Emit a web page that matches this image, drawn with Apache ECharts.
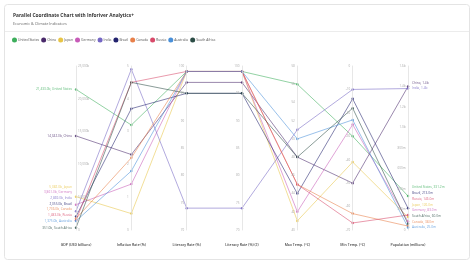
<!DOCTYPE html>
<html>
<head>
<meta charset="utf-8">
<script src="https://cdn.jsdelivr.net/npm/echarts@6/dist/echarts.min.js"></script>
<style>
  html, body { margin: 0; padding: 0; background: #fff; }
  #main { width: 474px; height: 265px; }
</style>
</head>
<body>
<div id="main"></div>
<script>
  // countries and colours
  var countries = ['United States', 'China', 'Japan', 'Germany', 'India', 'Brazil', 'Canada', 'Russia', 'Australia', 'South Africa'];
  var colors = ['#3dae5c', '#4a2a6b', '#e8c547', '#c75bb8', '#7567c4', '#23236e', '#e8804a', '#d84a6a', '#4a90d9', '#2c4d46'];

  // values per axis
  var gdp = [21433, 14342, 5082, 3861, 2869, 2055, 1736, 1483, 1375, 351];
  var inflation = [3.2, 2.3, 0.5, 1.4, 4.9, 3.7, 2.2, 4.5, 1.8, 4.5];
  var literacy = [99, 97, 99, 99, 74, 95, 99, 99, 99, 95];
  var literacy2 = [99, 97, 99, 99, 74, 95, 99, 99, 99, 95];
  var maxTemp = [56, 48, 41, 42, 51, 44, 45, 45, 50, 48];
  var minTemp = [-30, -50, -41, -25, -10, -14, -63, -67, -23, -18];
  var population = [331.2, 1400, 126, 83, 1380, 213, 38, 146, 25, 60];

  // axes
  var axisNames = ['GDP (USD billions)', 'Inflation Rate (%)', 'Literacy Rate (%)', 'Literacy Rate (%) (2)', 'Max Temp. (°C)', 'Min Temp. (°C)', 'Population (millions)'];
  var axisMin = [0, 0, 70, 70, 40, -70, 0];
  var axisMax = [25000, 5, 100, 100, 58, 0, 1600];
  var axisInterval = [5000, 1, 5, 5, 2, 10, 200];

  var columns = [gdp, inflation, literacy, literacy2, maxTemp, minTemp, population];

  function fmtPop(v) {
    if (v >= 1000) return (v / 1000).toFixed(1) + 'b';
    return v.toFixed(1) + 'm';
  }
  function tickFmt(i) {
    return function (v) {
      if (i === 0) return v === 0 ? '0' : v.toLocaleString('en-US') + 'b';
      if (i === 6) return v === 0 ? '0' : (v >= 1000 ? (v / 1000).toFixed(1) + 'b' : v + 'm');
      return String(v);
    };
  }

  var box = { left: 76, right: 66, top: 66, bottom: 35 };
  var font = 'Open Sans, Noto Sans, sans-serif';
  var labelGap = 5.7;

  var series = [];
  countries.forEach(function (c, i) {
    series.push({
      type: 'parallel',
      name: c,
      data: [columns.map(function (col) { return col[i]; })],
      lineStyle: { color: colors[i], width: 0.7, opacity: 0.8 },
      itemStyle: { color: colors[i] },
      emphasis: { disabled: true }
    });
  });

  // dots (and end labels) on a hidden grid lined up with the parallel axes
  columns.forEach(function (col, j) {
    var s = {
      type: 'scatter',
      name: 'pts' + j,
      xAxisIndex: 0,
      yAxisIndex: j,
      symbolSize: 2.5,
      silent: true,
      z: 5,
      data: countries.map(function (c, i) {
        return {
          value: [j, col[i]],
          name: c,
          itemStyle: { color: colors[i] },
          label: { color: colors[i] }
        };
      })
    };
    if (j === 0) {
      s.label = {
        show: true, position: 'left', distance: 3, fontSize: 3.2, fontFamily: font,
        formatter: function (p) {
          return p.value[1].toLocaleString('en-US', { minimumFractionDigits: 1, maximumFractionDigits: 1 }) + 'b, ' + p.name;
        }
      };
    }
    if (j === 6) {
      s.label = {
        show: true, position: 'right', distance: 3, fontSize: 3.2, fontFamily: font,
        formatter: function (p) { return p.name + ', ' + fmtPop(p.value[1]); }
      };
    }
    series.push(s);
  });

  var chart = echarts.init(document.getElementById('main'));
  chart.setOption({
    animation: false,
    textStyle: { fontFamily: font },
    title: {
      text: 'Parallel Coordinate Chart with Inforiver Analytics+',
      subtext: 'Economic & Climate Indicators',
      left: 8, top: 8, itemGap: 4,
      textStyle: { fontSize: 4.8, fontWeight: 'bold', color: '#333', fontFamily: font },
      subtextStyle: { fontSize: 3.8, color: '#666', fontFamily: font }
    },
    legend: {
      data: countries,
      left: 12, top: 37.5, padding: 0,
      icon: 'circle', itemWidth: 3, itemHeight: 3, itemGap: 2,
      textStyle: { fontSize: 3.4, color: '#555', fontFamily: font, padding: [0, 0, 0, -3] }
    },
    graphic: [
      { type: 'rect', shape: { x: 4.5, y: 4.5, width: 465, height: 255, r: 3 }, style: { fill: null, stroke: '#e4e4e4', lineWidth: 1 }, silent: true },
      { type: 'line', shape: { x1: 5, y1: 31.5, x2: 469, y2: 31.5 }, style: { stroke: '#ececec', lineWidth: 1 }, silent: true }
    ],
    parallel: Object.assign({}, box),
    parallelAxis: axisNames.map(function (n, i) {
      return {
        dim: i, name: n,
        min: axisMin[i], max: axisMax[i], interval: axisInterval[i],
        nameLocation: 'start', nameGap: 13,
        nameTextStyle: { fontSize: 3.5, color: '#444', fontWeight: 600, fontFamily: font },
        axisLine: { lineStyle: { color: '#dcdcdc', width: 0.7 } },
        axisTick: { show: false },
        splitLine: { show: false },
        axisLabel: i === 0
          ? { fontSize: 3, color: '#aaa', margin: 2, formatter: tickFmt(i) }
          : { fontSize: 3, color: '#aaa', margin: -2.5, align: 'right', formatter: tickFmt(i) }
      };
    }),
    grid: Object.assign({}, box),
    xAxis: { type: 'category', data: axisNames, boundaryGap: false, show: false },
    yAxis: axisNames.map(function (n, i) {
      return { type: 'value', min: axisMin[i], max: axisMax[i], show: false };
    }),
    series: series
  });

  // stack the end labels so they do not collide (pushed up from the bottom)
  function spreadLabels(j) {
    var pts = columns[j].map(function (v, i) {
      return { i: i, p: chart.convertToPixel({ xAxisIndex: 0, yAxisIndex: j }, [j, v]) };
    });
    pts.sort(function (a, b) { return b.p[1] - a.p[1]; });
    var out = [];
    var prev = Infinity;
    pts.forEach(function (d) {
      var y = Math.min(d.p[1], prev - labelGap);
      out[d.i] = { x: d.p[0], y: y };
      prev = y;
    });
    return out;
  }
  var gdpPos = spreadLabels(0);
  var popPos = spreadLabels(6);
  var upd = [];
  for (var k = 0; k < 10; k++) upd.push({});
  for (var j = 0; j < 7; j++) {
    if (j === 0) {
      upd.push({ labelLayout: function (p) {
        var d = gdpPos[p.dataIndex];
        return { x: d.x - 4, y: d.y, align: 'right', verticalAlign: 'middle' };
      } });
    } else if (j === 6) {
      upd.push({ labelLayout: function (p) {
        var d = popPos[p.dataIndex];
        return { x: d.x + 4, y: d.y, align: 'left', verticalAlign: 'middle' };
      } });
    } else {
      upd.push({});
    }
  }
  chart.setOption({ series: upd });
</script>
</body>
</html>
